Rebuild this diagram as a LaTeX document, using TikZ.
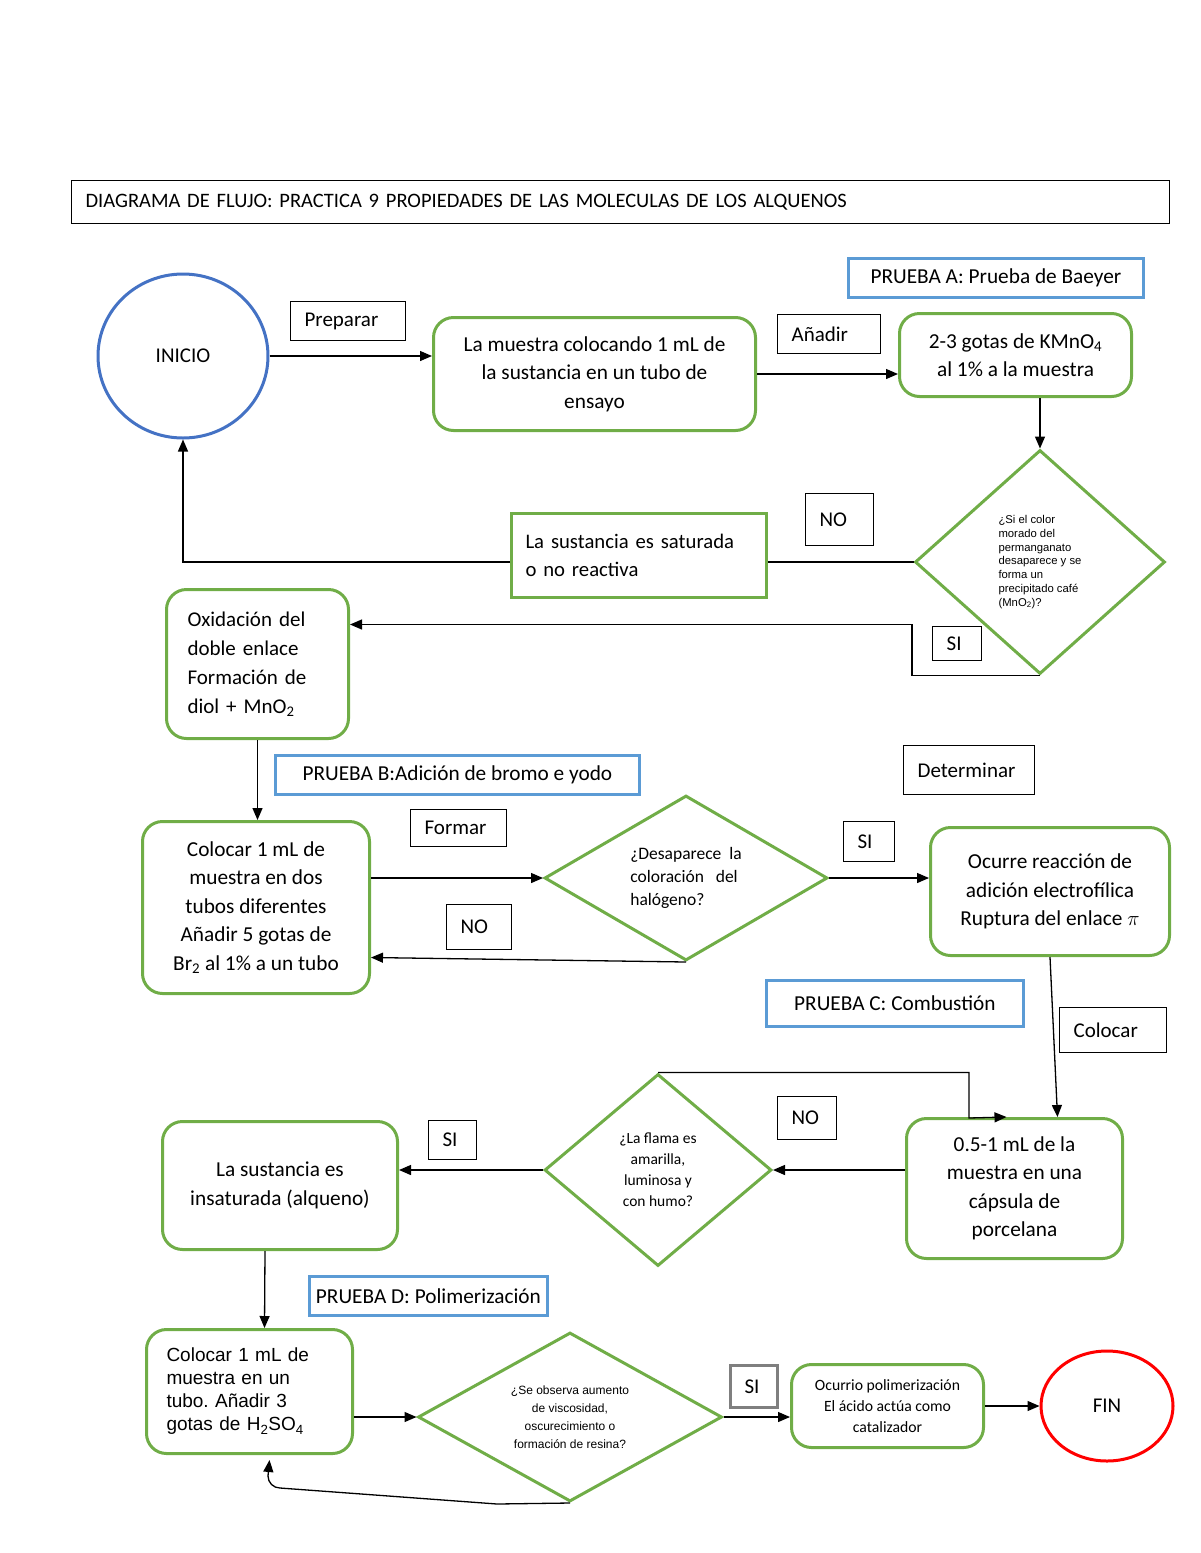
\documentclass[tikz,border=0pt]{standalone}
\usepackage{fontspec}
\setmainfont{Carlito}
\newfontfamily\arialfont{Liberation Sans}
\usetikzlibrary{arrows.meta,shapes.geometric}
\definecolor{boxgreen}{HTML}{70AD47}
\definecolor{testblue}{HTML}{5B9BD5}
\definecolor{startblue}{HTML}{4472C4}
\definecolor{sigrey}{HTML}{7F7F7F}
\frenchspacing

\begin{document}
\begin{tikzpicture}[x=1pt, y=-1pt, line width=1.3pt,
    >={Triangle[length=12pt,width=10pt]},
    proc/.style={draw=boxgreen, line width=3pt, rounded corners=20pt, anchor=north west,
        inner sep=0pt, align=center, font=\fontsize{21.3}{28.5}\selectfont},
    lbl/.style={draw, line width=1.2pt, anchor=north west, inner xsep=14pt, inner ysep=0pt,
        align=left, font=\fontsize{21}{24}\selectfont},
    prueba/.style={draw=testblue, line width=2.8pt, anchor=north west, inner sep=0pt,
        font=\fontsize{21.3}{24}\selectfont},
    decision/.style={diamond, draw=boxgreen, line width=3pt, inner sep=0pt},
    terminal/.style={ellipse, draw, line width=3pt, font=\fontsize{21}{24}\selectfont}]

    \useasboundingbox (0,0) rectangle (1200,1553);

    % Title
    \node[lbl, minimum width=1098, minimum height=43, text width=1070,
        font=\fontsize{20.5}{22}\selectfont] (title) at (71,180)
        {DIAGRAMA DE FLUJO: PRACTICA 9 PROPIEDADES DE LAS MOLECULAS DE LOS ALQUENOS};

    % Prueba A
    \node[terminal, draw=startblue, minimum width=170, minimum height=164] (inicio) at (183,356) {INICIO};
    \node[lbl, minimum width=115, minimum height=39, text width=87] (prep) at (290,301) {Preparar};
    \node[proc, minimum width=322, minimum height=113] (muestra) at (432,316)
        {La muestra colocando 1 mL de\\la sustancia en un tubo de\\ensayo};
    \node[lbl, minimum width=103, minimum height=39, text width=75] (anadir) at (777,314) {Añadir};
    \node[proc, minimum width=232, minimum height=83] (kmno) at (898,312)
        {2-3 gotas de KMnO\textsubscript{4}\\al 1\% a la muestra};
    \node[prueba, minimum width=295, minimum height=39] (pruebaA) at (847,257) {PRUEBA A: Prueba de Baeyer};
    \node[decision, minimum width=250, minimum height=224, align=left,
        font=\arialfont\fontsize{11.3}{13.7}\selectfont] (baeyer) at (1040,562)
        {¿Si el color\\morado del\\permanganato\\desaparece y se\\forma un\\precipitado café\\(MnO\textsubscript{2})?};
    \node[lbl, minimum width=68, minimum height=52, text width=40] (noA) at (805,493) {NO};
    \node[proc, rounded corners=0pt, align=left, text width=227, minimum width=255,
        minimum height=84, font=\fontsize{20.7}{28.5}\selectfont] (saturada) at (510,512)
        {La sustancia es saturada\\o no reactiva};
    \node[lbl, minimum width=49, minimum height=34, text width=21] (siA) at (932,626) {SI};
    \node[proc, align=left, text width=140, minimum width=182, minimum height=149,
        font=\fontsize{21}{29}\selectfont] (oxid) at (165,588)
        {Oxidación del\\doble enlace\\Formación de\\diol + MnO\textsubscript{2}};

    % Prueba B
    \node[prueba, minimum width=364, minimum height=39] (pruebaB) at (274,754) {PRUEBA B:Adición de bromo e yodo};
    \node[lbl, minimum width=131, minimum height=49, text width=103] (determ) at (903,745) {Determinar};
    \node[lbl, minimum width=96, minimum height=37, text width=68] (formar) at (410,809) {Formar};
    \node[proc, minimum width=227, minimum height=172] (bromo) at (141,820)
        {Colocar 1 mL de\\muestra en dos\\tubos diferentes\\Añadir 5 gotas de\\Br\textsubscript{2} al 1\% a un tubo};
    \node[decision, aspect=1.7, minimum width=283, minimum height=165, align=left,
        font=\fontsize{17.5}{23}\selectfont] (halogeno) at (686,878)
        {¿Desaparece \ la\\coloración \ \ del\\halógeno?};
    \node[lbl, minimum width=65, minimum height=45, text width=37] (noB) at (446,904) {NO};
    \node[lbl, minimum width=51, minimum height=40, text width=23] (siB) at (843,821) {SI};
    \node[proc, minimum width=239, minimum height=128] (adicion) at (929,826)
        {Ocurre reacción de\\adición electrofílica\\Ruptura del enlace $\pi$};

    % Prueba C
    \node[prueba, minimum width=257, minimum height=46] (pruebaC) at (765,979) {PRUEBA C: Combustión};
    \node[lbl, minimum width=107, minimum height=45, text width=79] (colocar) at (1059,1007) {Colocar};
    \node[proc, minimum width=216, minimum height=140] (capsula) at (905,1117)
        {0.5-1 mL de la\\muestra en una\\cápsula de\\porcelana};
    \node[decision, aspect=1.18, minimum width=227, minimum height=192,
        align=center, font=\fontsize{15.5}{21}\selectfont] (flama) at (658,1170)
        {¿La flama es\\amarilla,\\luminosa y\\con humo?};
    \node[lbl, minimum width=59, minimum height=43, text width=31] (noC) at (777,1096) {NO};
    \node[lbl, minimum width=48, minimum height=39, text width=20] (siC) at (428,1120) {SI};
    \node[proc, minimum width=235, minimum height=128] (insat) at (161,1120)
        {La sustancia es\\insaturada (alqueno)};

    % Prueba D
    \node[prueba, minimum width=238, minimum height=39] (pruebaD) at (308,1275) {PRUEBA D: Polimerización};
    \node[proc, align=left, text width=166, minimum width=206, minimum height=124,
        font=\arialfont\fontsize{19}{23}\selectfont] (acido) at (145,1328)
        {Colocar 1 mL de\\muestra en un\\tubo. Añadir 3\\gotas de H\textsubscript{2}SO\textsubscript{4}};
    \node[decision, aspect=1.8, minimum width=304, minimum height=169, align=center,
        font=\arialfont\fontsize{12}{18}\selectfont] (resina) at (570,1417)
        {¿Se observa aumento\\de viscosidad,\\oscurecimiento o\\formación de resina?};
    \node[lbl, draw=sigrey, line width=3pt, minimum width=47, minimum height=42, text width=19] (siD) at (729,1364) {SI};
    \node[proc, minimum width=192, minimum height=83, font=\fontsize{15.7}{21}\selectfont] (polim) at (790,1363)
        {Ocurrio polimerización\\El ácido actúa como\\catalizador};
    \node[terminal, draw=red, minimum width=132, minimum height=110] (fin) at (1107,1406) {FIN};

    % Connectors
    \draw[->] (inicio.east) -- (muestra.west |- inicio.east);
    \draw[->] (muestra.east) -- (kmno.west |- muestra.east);
    \draw[->] (baeyer.north |- kmno.south) -- (baeyer.north);
    \draw (baeyer.west) -- (saturada.east |- baeyer.west);
    \draw[->] (saturada.west |- baeyer.west) -| (inicio.south);
    \draw[->] (baeyer.south) -- ++(-128,0) |- ([yshift=39.5pt]oxid.east);
    \draw[->] (oxid.south) -- (oxid.south |- bromo.north);
    \draw[->] (bromo.east |- halogeno.west) -- (halogeno.west);
    \draw[->] (halogeno.south) -- ([yshift=-50pt]bromo.east);
    \draw[->] (halogeno.east) -- (adicion.west |- halogeno.east);
    \draw[->] (adicion.south) -- ([xshift=43pt]capsula.north);
    \draw[->] (capsula.west |- flama.east) -- (flama.east);
    \draw[->] (flama.north) -| (969,1118) -- ([xshift=-8pt]capsula.north);
    \draw[->] (flama.west) -- (insat.east |- flama.west);
    \draw[->] ([xshift=-15pt]insat.south) -- ([xshift=15pt]acido.north);
    \draw[->] (acido.east |- resina.west) -- (resina.west);
    \draw[->] (resina.south) -- (497,1504) -- (280,1488) to[out=180,in=-90] (268,1476)
        -- ([xshift=20pt,yshift=-5pt]acido.south);
    \draw[->] (resina.east) -- (polim.west |- resina.east);
    \draw[->] (polim.east) -- (fin.west);

\end{tikzpicture}
\end{document}
